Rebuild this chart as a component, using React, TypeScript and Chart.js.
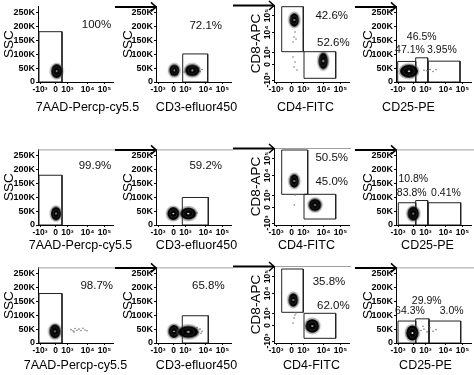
import React, { useEffect, useRef } from 'react';
import { Chart, registerables } from 'chart.js';

Chart.register(...registerables);

const FONT = "'Liberation Sans', Arial, Helvetica, sans-serif";

// ---------- axis ticks ----------
const SSC_TICKS = [0, 50, 100, 150, 200, 250]; // SSC in K
const SSC_LABELS = ['0', '50K', '100K', '150K', '200K', '250K'];
const BIEX_TICKS = [2, 17.5, 29.5, 49.5, 66.5]; // biexponential display channel
const BIEX_LABELS = ['-10³', '0', '10³', '10⁴', '10⁵'];

const X_TITLES = ['7AAD-Percp-cy5.5', 'CD3-efluor450', 'CD4-FITC', 'CD25-PE'];
const Y_TITLES = ['SSC', 'SSC', 'CD8-APC', 'SSC'];

// ---------- gate percentages (rows = samples) ----------
const VIA_PCT = ['100%', '99.9%', '98.7%'];
const CD3_PCT = ['72.1%', '59.2%', '65.8%'];
const CD8_PCT = ['42.6%', '50.5%', '35.8%'];
const CD4_PCT = ['52.6%', '45.0%', '62.0%'];
const CD25_MID_PCT = ['46.5%', '10.8%', '29.9%'];
const CD25_NEG_PCT = ['47.1%', '83.8%', '64.3%'];
const CD25_POS_PCT = ['3.95%', '0.41%', '3.0%'];

// ---------- gates [xMin, xMax, yMin, yMax] in axis units ----------
const VIA_GATE = [[1, 24, 0, 181], [1, 24, 0, 179], [1, 24, 0, 178]];
const CD3_GATE = [[26.7, 51.7, 0, 101], [26.3, 52.3, 0, 99], [26.3, 52.3, 0, 98]];
const CD8_GATE = [[7.7, 29.3, 30.3, 75.3], [7.7, 33.7, 30.7, 75], [7.7, 29.3, 30.7, 74]];
const CD4_GATE = [[30, 61.7, 3.7, 30.3], [30, 61.7, 6, 30.7], [30, 61.7, 4.7, 29.7]];
const CD25_NEG_GATE = [[1.7, 19.7, 0, 74], [2.3, 19.7, 0, 80], [2, 19.7, 0, 79]];
const CD25_MID_GATE = [[19.7, 31.7, 0, 87], [19.7, 31.7, 0, 88], [19.7, 33, 0, 87]];
const CD25_POS_GATE = [[32.3, 64, 0, 75], [32.3, 64.7, 0, 80], [33, 64.7, 0, 79]];

// ---------- populations [x, y, spreadX, spreadY] ----------
const VIA_POP = [[[18.7, 39, 5.5, 25]], [[18, 41, 5, 24]], [[17, 42, 5.5, 25]]];
const CD3_POP = [
  [[18.3, 42, 5, 21], [36.3, 42, 7.2, 21]],
  [[17.3, 41, 6, 23], [32.3, 41, 7.8, 22]],
  [[18, 42, 5.5, 23], [32.3, 40, 10, 22]],
];
const CD48_POP = [
  [[20.3, 62, 4.7, 6.8], [49.3, 21, 4.7, 8.3]],
  [[20.3, 44, 4.7, 6.8], [41, 20, 6.2, 6.2]],
  [[19.3, 43, 4.7, 6.8], [38.3, 17, 6.8, 6.8]],
];
const CD25_POP = [[[13, 39, 9, 23]], [[17.3, 41, 5.7, 25]], [[16.3, 36, 6.2, 27]]];

// ---------- sparse events [x, y] ----------
const VIA_SPARSE = [
  [],
  [],
  [[33, 48], [35, 44], [37, 52], [39, 46], [41, 50], [43, 45], [45, 53], [47, 47], [49, 44], [36, 40]],
];
const CD3_SPARSE = [
  [[44, 38], [46, 45], [43, 50], [28, 36]],
  [[41, 44]],
  [[40, 45], [42, 38], [44, 50], [46, 42], [41, 55], [45, 35]],
];
const CD48_SPARSE = [
  [[19, 40], [20, 45], [21, 50], [22, 43], [20, 15], [21, 20], [23, 12], [19, 25]],
  [[20.3, 20], [21, 30]],
  [[20, 25], [21, 28], [19, 20], [22, 30]],
];
const CD25_SPARSE = [
  [[31, 40], [34, 45], [37, 38], [40, 44], [28, 42]],
  [],
  [[25, 45], [28, 50], [31, 40], [34, 55], [37, 42], [40, 48], [27, 60]],
];

// ---------- label anchors (axis units) ----------
const VIA_PCT_AT = [[58.5, 205], [57, 212], [58.7, 205]];
const CD3_PCT_AT = [[49.7, 201], [49.7, 212], [52.3, 205]];
const CD8_PCT_AT = [[57.7, 66], [57.7, 66.7], [55, 61.3]];
const CD4_PCT_AT = [[59.3, 38.7], [57.7, 42.7], [59.3, 37]];
const CD25_MID_AT = [[25.7, 162], [17.3, 165], [30.7, 152]];
const CD25_NEG_AT = [[14, 115.5], [15.7, 114], [14, 114]];
const CD25_POS_AT = [[46, 115.5], [50, 114], [55.7, 114]];

// ---------- layout ----------
const COL_AXIS_X = [38, 156, 274, 396];
const ROW_TOP = [5, 148, 266];
const PLOT_W = 75;
const PLOT_H = 77;
const X_H = 34;
const PAD_TOP = 5;
const RIGHT_EXTRA = 40;
const TITLE_DY = [26, 21, 22.5];
const TITLE_DX = [
  [12, 3, -6, -25],
  [5, 3, -5, -6],
  [0, 3, 0, -8],
];
const Y_TITLE_PAD = [1, 6, 16, 6.5];
const PCT_FONT = [11.5, 11.5, 11.5, 10.5];

const blobCache = new Map<string, HTMLCanvasElement>();
function blobImage(rx: number, ry: number): HTMLCanvasElement {
  const key = rx.toFixed(1) + '_' + ry.toFixed(1);
  const hit = blobCache.get(key);
  if (hit) return hit;
  const pad = 3;
  const c = document.createElement('canvas');
  c.width = Math.ceil(2 * rx + 2 * pad);
  c.height = Math.ceil(2 * ry + 2 * pad);
  const g = c.getContext('2d')!;
  const cx = c.width / 2;
  const cy = c.height / 2;
  const ell = (a: number, b: number) => {
    g.beginPath();
    g.ellipse(cx, cy, Math.max(a, 0.5), Math.max(b, 0.5), 0, 0, Math.PI * 2);
  };
  g.fillStyle = 'rgba(90,90,90,0.45)';
  ell(rx + 1.6, ry + 1.6);
  g.fill();
  g.fillStyle = '#000';
  ell(rx, ry);
  g.fill();
  g.strokeStyle = 'rgba(255,255,255,0.25)';
  g.lineWidth = 0.6;
  ell(rx * 0.6, ry * 0.6);
  g.stroke();
  g.fillStyle = '#fff';
  ell(Math.max(0.8, rx * 0.15), Math.max(0.8, ry * 0.12));
  g.fill();
  blobCache.set(key, c);
  return c;
}

const blobStyle = (ctx: any) => {
  if (ctx.type !== 'data' || !ctx.raw) return 'circle';
  const xs = ctx.chart.scales.x;
  const ys = ctx.chart.scales.y;
  const r = ctx.raw;
  const rx = Math.abs(xs.getPixelForValue(r.x + r.sx) - xs.getPixelForValue(r.x));
  const ry = Math.abs(ys.getPixelForValue(r.y + r.sy) - ys.getPixelForValue(r.y));
  return blobImage(rx, ry);
};

const rect = (g: number[]) => [
  { x: g[0], y: g[2] },
  { x: g[0], y: g[3] },
  { x: g[1], y: g[3] },
  { x: g[1], y: g[2] },
  { x: g[0], y: g[2] },
];

type Lbl = { text: string; x: number; y: number };

function panelContent(row: number, col: number) {
  let gates: number[][] = [];
  let pops: number[][] = [];
  let sparse: number[][] = [];
  let labels: Lbl[] = [];
  const L = (t: string, at: number[]) => ({ text: t, x: at[0], y: at[1] });
  if (col === 0) {
    gates = [VIA_GATE[row]];
    pops = VIA_POP[row];
    sparse = VIA_SPARSE[row];
    labels = [L(VIA_PCT[row], VIA_PCT_AT[row])];
  } else if (col === 1) {
    gates = [CD3_GATE[row]];
    pops = CD3_POP[row];
    sparse = CD3_SPARSE[row];
    labels = [L(CD3_PCT[row], CD3_PCT_AT[row])];
  } else if (col === 2) {
    gates = [CD8_GATE[row], CD4_GATE[row]];
    pops = CD48_POP[row];
    sparse = CD48_SPARSE[row];
    labels = [L(CD8_PCT[row], CD8_PCT_AT[row]), L(CD4_PCT[row], CD4_PCT_AT[row])];
  } else {
    gates = [CD25_NEG_GATE[row], CD25_MID_GATE[row], CD25_POS_GATE[row]];
    pops = CD25_POP[row];
    sparse = CD25_SPARSE[row];
    labels = [
      L(CD25_MID_PCT[row], CD25_MID_AT[row]),
      L(CD25_NEG_PCT[row], CD25_NEG_AT[row]),
      L(CD25_POS_PCT[row], CD25_POS_AT[row]),
    ];
  }
  const datasets: any[] = [
    {
      label: 'populations',
      data: pops.map((p) => ({ x: p[0], y: p[1], sx: p[2], sy: p[3] })),
      pointStyle: blobStyle,
      pointRadius: 4,
      pointBorderWidth: 0,
    },
    {
      label: 'events',
      data: sparse.map((p) => ({ x: p[0], y: p[1] })),
      pointRadius: 0.8,
      pointBackgroundColor: '#777',
      pointBorderColor: '#777',
      pointBorderWidth: 0,
    },
    ...gates.map((g, i) => ({
      label: 'gate' + i,
      data: rect(g),
      showLine: true,
      borderColor: '#222',
      borderWidth: 1,
      pointRadius: 0,
      fill: false,
      tension: 0,
    })),
  ];
  return { datasets, labels };
}

function Panel({ row, col }: { row: number; col: number }) {
  const ref = useRef<HTMLCanvasElement | null>(null);
  const canvasLeft = col === 0 ? 0 : COL_AXIS_X[col] - 42;
  const yW = COL_AXIS_X[col] - canvasLeft;
  const canvasTop = ROW_TOP[row] - PAD_TOP;
  const canvasW = col === 3 ? 474 - canvasLeft : yW + PLOT_W + RIGHT_EXTRA;
  const canvasH = PAD_TOP + PLOT_H + X_H;

  useEffect(() => {
    if (!ref.current) return;
    const { datasets, labels } = panelContent(row, col);
    const biexY = col === 2;
    const tickFont = { family: FONT, size: 8.5, weight: 'bold' as const };
    const decor = {
      id: 'decor' + row + col,
      afterDatasetsDraw(chart: any) {
        const { ctx, chartArea: a } = chart;
        ctx.save();
        if (row > 0) {
          ctx.strokeStyle = '#a0a0a0';
          ctx.lineWidth = 1;
          ctx.beginPath();
          ctx.moveTo(a.left, a.top + 0.5);
          ctx.lineTo(col === 3 ? chart.width : a.right + 2, a.top + 0.5);
          ctx.stroke();
        }
        if (col > 0) {
          const y = a.top + 0.5;
          const x0 = a.left - 41;
          const x1 = a.left;
          ctx.strokeStyle = '#000';
          ctx.lineWidth = 2;
          ctx.beginPath();
          ctx.moveTo(x0, y);
          ctx.lineTo(x1 - 1, y);
          ctx.stroke();
          ctx.lineWidth = 1.6;
          ctx.beginPath();
          ctx.moveTo(x1 - 5, y - 4.5);
          ctx.lineTo(x1, y);
          ctx.lineTo(x1 - 5, y + 4.5);
          ctx.stroke();
        }
        ctx.fillStyle = '#111';
        ctx.textAlign = 'center';
        ctx.textBaseline = 'middle';
        ctx.font = `${PCT_FONT[col]}px ${FONT}`;
        labels.forEach((l) => {
          ctx.fillText(l.text, chart.scales.x.getPixelForValue(l.x), chart.scales.y.getPixelForValue(l.y));
        });
        ctx.font = `12.5px ${FONT}`;
        ctx.fillStyle = '#000';
        ctx.fillText(
          X_TITLES[col],
          (a.left + a.right) / 2 + TITLE_DX[row][col],
          a.bottom + TITLE_DY[row]
        );
        ctx.restore();
      },
    };
    const chart = new Chart(ref.current, {
      type: 'scatter',
      data: { datasets },
      plugins: [decor],
      options: {
        animation: false,
        responsive: false,
        events: [],
        layout: {
          padding: { top: PAD_TOP, left: 0, bottom: 0, right: canvasW - yW - PLOT_W },
          autoPadding: false,
        } as any,
        plugins: { legend: { display: false }, tooltip: { enabled: false } },
        scales: {
          x: {
            type: 'linear',
            min: 0,
            max: PLOT_W,
            afterBuildTicks: (s: any) => {
              s.ticks = BIEX_TICKS.map((v) => ({ value: v }));
            },
            afterFit: (s: any) => {
              s.height = X_H;
            },
            ticks: {
              autoSkip: false,
              minRotation: 0,
              maxRotation: 0,
              padding: 1,
              color: '#000',
              font: tickFont,
              callback: (_v: any, i: number) => BIEX_LABELS[i],
            },
            grid: { display: true, drawOnChartArea: false, drawTicks: true, tickLength: 2, color: '#000' },
            border: { display: true, color: '#000', dash: [1, 1.5], width: 1 },
          },
          y: {
            type: 'linear',
            min: 0,
            max: biexY ? PLOT_H : 272,
            afterBuildTicks: (s: any) => {
              s.ticks = (biexY ? BIEX_TICKS : SSC_TICKS).map((v) => ({ value: v }));
            },
            afterFit: (s: any) => {
              s.width = yW;
            },
            ticks: biexY
              ? {
                  autoSkip: false,
                  minRotation: 90,
                  maxRotation: 90,
                  crossAlign: 'center',
                  padding: -3,
                  color: '#000',
                  font: tickFont,
                  callback: (_v: any, i: number) => BIEX_LABELS[i],
                }
              : {
                  autoSkip: false,
                  padding: 1,
                  color: '#000',
                  font: { family: FONT, size: 9, weight: 'bold' as const },
                  callback: (_v: any, i: number) => SSC_LABELS[i],
                },
            title: {
              display: true,
              text: Y_TITLES[col],
              color: '#000',
              font: { family: FONT, size: 13.5 },
              padding: { top: Y_TITLE_PAD[col], bottom: 0 },
            },
            grid: { display: true, drawOnChartArea: false, drawTicks: true, tickLength: 2, color: '#000' },
            border: { display: true, color: '#000', dash: [1, 1.5], width: 1 },
          },
        },
      } as any,
    });
    return () => chart.destroy();
  }, [row, col]);

  return (
    <canvas
      ref={ref}
      width={canvasW}
      height={canvasH}
      style={{ position: 'absolute', left: canvasLeft, top: canvasTop, width: canvasW, height: canvasH }}
    />
  );
}

export default function App() {
  const cells: JSX.Element[] = [];
  for (let r = 0; r < 3; r++) {
    for (let c = 0; c < 4; c++) {
      cells.push(<Panel key={`${r}-${c}`} row={r} col={c} />);
    }
  }
  return (
    <div
      style={{
        position: 'absolute',
        left: 0,
        top: 0,
        width: 474,
        height: 375,
        overflow: 'hidden',
        background: '#fff',
      }}
    >
      {cells}
    </div>
  );
}
